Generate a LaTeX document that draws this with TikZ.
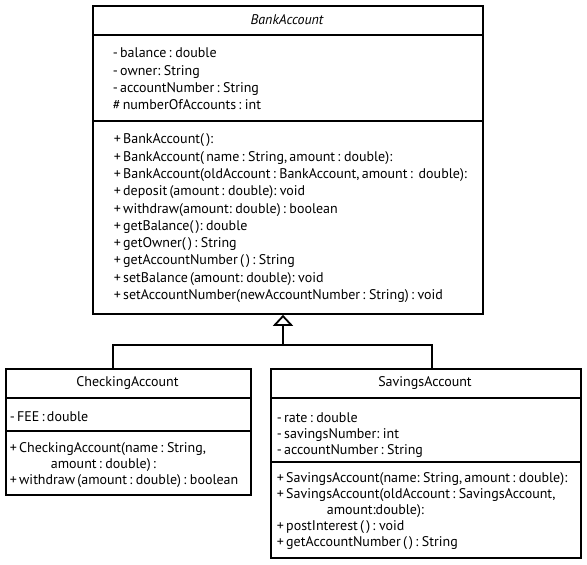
\documentclass[tikz,border=0pt]{standalone}
\usepackage{fontspec}
\setmainfont{PT Sans}[WordSpace=0.6]
\usetikzlibrary{arrows.meta}

\begin{document}
\begin{tikzpicture}[x=1pt, y=-1pt, line width=1.8pt]
      \tikzset{classbox/.style={draw=black, rectangle, inner sep=0pt, anchor=north west},
        member/.style={anchor=north west, inner sep=0pt, align=left, font=\fontsize{14}{17.3}\selectfont},
        submember/.style={member, font=\fontsize{14}{15.8}\selectfont}}
      \path[use as bounding box] (0,0) rectangle (587,565);

      % class boxes
      \node[classbox, minimum width=390pt, minimum height=308pt] (bank) at (92,5) {};
      \node[classbox, minimum width=245pt, minimum height=126pt] (checking) at (5,368) {};
      \node[classbox, minimum width=310pt, minimum height=189pt] (savings) at (270,368) {};

      % compartments
      \draw (bank.west |- 0,35) -- (bank.east |- 0,35);
      \draw (bank.west |- 0,121) -- (bank.east |- 0,121);
      \draw (checking.west |- 0,398) -- (checking.east |- 0,398);
      \draw (checking.west |- 0,431) -- (checking.east |- 0,431);
      \draw (savings.west |- 0,398) -- (savings.east |- 0,398);
      \draw (savings.west |- 0,462) -- (savings.east |- 0,462);

      \node[font=\itshape\fontsize{14}{16}\selectfont] (banktitle) at (287,20) {BankAccount};
      \node[member] (bankattr) at (112,47) {- balance : double\\- owner: String\\- accountNumber : String\\\# numberOfAccounts : int};
      \node[member] (bankops) at (113,133) {+ BankAccount( ):\\
        + BankAccount( name : String, amount : double):\\
        + BankAccount(oldAccount : BankAccount, amount : \ double):\\
        + deposit (amount : double): void\\
        + withdraw(amount: double) : boolean\\
        + getBalance( ): double\\
        + getOwner( ) : String\\
        + getAccountNumber ( ) : String\\
        + setBalance (amount: double): void\\
        + setAccountNumber(newAccountNumber : String) : void};

      \node[font=\fontsize{14}{16}\selectfont] (checktitle) at (127.5,383) {CheckingAccount};
      \node[submember] (checkattr) at (9,411) {- FEE : double};
      \node[submember] (checkops) at (9,442) {+ CheckingAccount(name : String,\\
        \hspace*{41pt}amount : double) :\\
        + withdraw (amount : double) : boolean};

      \node[font=\fontsize{14}{16}\selectfont] (savetitle) at (425,383) {SavingsAccount};
      \node[submember] (saveattr) at (276,412) {- rate : double\\- savingsNumber: int\\- accountNumber : String};
      \node[submember] (saveops) at (276,472) {+ SavingsAccount(name: String, amount : double):\\
        + SavingsAccount(oldAccount : SavingsAccount,\\
        \hspace*{50pt}amount:double):\\
        + postInterest ( ) : void\\
        + getAccountNumber ( ) : String};

      % generalization
      \coordinate (join) at (283,345);
      \draw ([xshift=-15.5pt]checking.north) |- (join) -| ([xshift=6pt]savings.north);
      \draw[-{Triangle[open, width=20pt, length=11pt]}] (join) -- (join |- bank.south);
    \end{tikzpicture}
\end{document}
